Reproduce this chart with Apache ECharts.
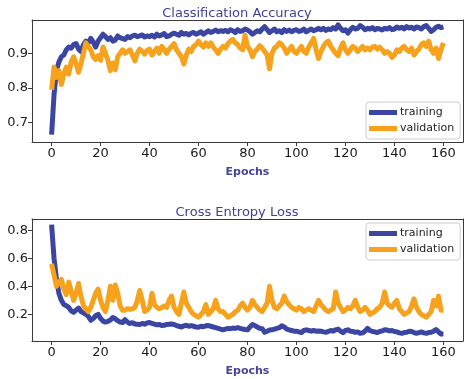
<!DOCTYPE html>
<html>
<head>
<meta charset="utf-8">
<script src="https://cdn.jsdelivr.net/npm/echarts@6/dist/echarts.min.js"></script>
<style>html,body{margin:0;padding:0;background:#fff}#c{width:474px;height:379px}</style>
</head>
<body>
<div id="c"></div>
<script>
const xTicks = [0, 20, 40, 60, 80, 100, 120, 140, 160];
const accTicks = [0.7, 0.8, 0.9];
const lossTicks = [0.2, 0.4, 0.6, 0.8];

const accTrain = [
0.665,0.78,0.85,0.875,0.89,0.895,0.91,0.918,0.915,0.925,
0.928,0.912,0.905,0.925,0.935,0.93,0.943,0.932,0.918,0.935,
0.945,0.955,0.948,0.94,0.945,0.935,0.938,0.95,0.945,0.942,
0.94,0.948,0.945,0.95,0.952,0.948,0.95,0.953,0.947,0.95,
0.948,0.952,0.947,0.955,0.95,0.953,0.957,0.948,0.95,0.955,
0.958,0.955,0.952,0.96,0.955,0.957,0.953,0.958,0.96,0.955,
0.958,0.962,0.955,0.96,0.965,0.96,0.963,0.967,0.962,0.965,
0.963,0.966,0.962,0.968,0.965,0.96,0.968,0.963,0.965,0.97,
0.967,0.962,0.955,0.96,0.965,0.962,0.97,0.977,0.968,0.96,
0.965,0.97,0.962,0.965,0.96,0.968,0.963,0.967,0.962,0.966,
0.968,0.963,0.965,0.97,0.962,0.966,0.97,0.965,0.968,0.972,
0.968,0.972,0.966,0.97,0.968,0.974,0.97,0.982,0.972,0.965,
0.968,0.958,0.968,0.975,0.97,0.972,0.98,0.975,0.968,0.972,
0.97,0.974,0.968,0.972,0.97,0.967,0.972,0.97,0.974,0.968,
0.97,0.976,0.972,0.975,0.97,0.977,0.973,0.975,0.97,0.976,
0.974,0.97,0.977,0.98,0.972,0.963,0.968,0.975,0.978,0.974,
0.976];
const accVal = [
0.795,0.86,0.83,0.85,0.81,0.84,0.86,0.84,0.875,0.89,
0.87,0.845,0.87,0.9,0.93,0.92,0.91,0.89,0.882,0.893,
0.88,0.918,0.9,0.88,0.85,0.872,0.852,0.89,0.9,0.91,
0.9,0.905,0.91,0.895,0.878,0.9,0.912,0.905,0.898,0.908,
0.912,0.895,0.905,0.915,0.9,0.92,0.91,0.9,0.912,0.92,
0.928,0.91,0.9,0.89,0.869,0.895,0.912,0.905,0.92,0.925,
0.935,0.925,0.918,0.93,0.92,0.93,0.918,0.91,0.9,0.912,
0.92,0.915,0.928,0.935,0.94,0.93,0.925,0.915,0.91,0.952,
0.92,0.91,0.89,0.905,0.912,0.922,0.915,0.905,0.895,0.855,
0.9,0.915,0.92,0.93,0.925,0.915,0.9,0.91,0.92,0.905,
0.9,0.91,0.92,0.905,0.9,0.918,0.93,0.943,0.91,0.885,
0.905,0.92,0.93,0.935,0.92,0.91,0.9,0.893,0.915,0.93,
0.91,0.9,0.91,0.92,0.915,0.905,0.912,0.92,0.91,0.915,
0.91,0.918,0.92,0.912,0.918,0.91,0.9,0.905,0.9,0.888,
0.895,0.91,0.905,0.915,0.92,0.91,0.905,0.915,0.895,0.905,
0.912,0.925,0.93,0.92,0.935,0.91,0.9,0.915,0.885,0.91,
0.93];
const lossTrain = [
0.84,0.6,0.45,0.35,0.3,0.27,0.262,0.25,0.225,0.215,
0.23,0.245,0.22,0.21,0.2,0.185,0.158,0.17,0.19,0.2,
0.17,0.152,0.145,0.15,0.16,0.177,0.168,0.155,0.145,0.142,
0.162,0.145,0.135,0.14,0.132,0.13,0.128,0.135,0.13,0.138,
0.142,0.135,0.13,0.125,0.128,0.12,0.122,0.128,0.13,0.132,
0.128,0.12,0.115,0.11,0.118,0.122,0.115,0.12,0.115,0.11,
0.108,0.115,0.112,0.118,0.12,0.115,0.11,0.105,0.1,0.095,
0.09,0.095,0.1,0.098,0.102,0.1,0.105,0.1,0.095,0.092,
0.09,0.11,0.128,0.12,0.11,0.1,0.098,0.072,0.08,0.088,
0.09,0.095,0.1,0.105,0.118,0.11,0.095,0.09,0.085,0.08,
0.08,0.075,0.07,0.085,0.09,0.085,0.08,0.085,0.08,0.082,
0.08,0.075,0.072,0.078,0.085,0.08,0.09,0.095,0.08,0.07,
0.085,0.09,0.08,0.078,0.072,0.075,0.065,0.068,0.08,0.1,
0.085,0.078,0.075,0.07,0.078,0.082,0.09,0.088,0.082,0.085,
0.078,0.075,0.068,0.065,0.07,0.072,0.08,0.078,0.07,0.065,
0.07,0.075,0.068,0.065,0.07,0.072,0.08,0.092,0.075,0.06,
0.06];
const lossVal = [
0.56,0.48,0.4,0.43,0.45,0.38,0.34,0.43,0.37,0.3,
0.35,0.42,0.33,0.26,0.24,0.22,0.25,0.3,0.35,0.38,
0.3,0.25,0.22,0.3,0.4,0.3,0.41,0.35,0.26,0.23,
0.23,0.24,0.235,0.24,0.25,0.3,0.37,0.3,0.22,0.23,
0.25,0.35,0.27,0.25,0.24,0.25,0.26,0.25,0.3,0.33,
0.25,0.22,0.2,0.28,0.36,0.28,0.25,0.22,0.2,0.19,
0.18,0.2,0.22,0.27,0.2,0.22,0.24,0.3,0.24,0.22,
0.22,0.2,0.18,0.19,0.2,0.22,0.23,0.26,0.28,0.25,
0.23,0.25,0.3,0.27,0.25,0.23,0.22,0.25,0.28,0.4,
0.3,0.25,0.24,0.26,0.28,0.33,0.29,0.27,0.25,0.24,
0.23,0.25,0.24,0.22,0.23,0.24,0.23,0.22,0.26,0.3,
0.27,0.25,0.23,0.22,0.23,0.24,0.36,0.28,0.25,0.22,
0.23,0.25,0.24,0.26,0.3,0.25,0.22,0.23,0.25,0.23,
0.2,0.21,0.22,0.24,0.25,0.28,0.36,0.28,0.26,0.25,
0.28,0.3,0.24,0.22,0.2,0.21,0.22,0.26,0.31,0.25,
0.22,0.2,0.19,0.18,0.2,0.22,0.3,0.26,0.33,0.23,
0.23];

const BLUE = '#3b46a3', ORANGE = '#f6a21c';
const FONT = 'DejaVu Sans';
const AX = '#3a3a3a';
const pairs = arr => arr.map((v, i) => [i, v]);

function xAxis(gridIndex) {
  return {
    type: 'value', gridIndex, min: -8, max: 168,
    name: 'Epochs', nameLocation: 'middle', nameGap: 25,
    nameTextStyle: { color: '#45459a', fontSize: 11, fontWeight: 'bold', fontFamily: FONT },
    axisLine: { show: true, onZero: false, lineStyle: { color: AX } },
    axisTick: { show: true, length: 4, customValues: xTicks, lineStyle: { color: AX } },
    axisLabel: { customValues: xTicks, color: '#1a1a1a', fontSize: 13, fontFamily: FONT, margin: 5 },
    splitLine: { show: false }
  };
}
function xTop(gridIndex) {
  return {
    type: 'value', gridIndex, min: -8, max: 168, position: 'top',
    axisLine: { show: true, onZero: false, lineStyle: { color: AX } },
    axisTick: { show: false }, axisLabel: { show: false }, splitLine: { show: false }
  };
}
function yAxis(gridIndex, min, max, ticks) {
  return {
    type: 'value', gridIndex, min, max,
    axisLine: { show: true, onZero: false, lineStyle: { color: AX } },
    axisTick: { show: true, length: 4, customValues: ticks, lineStyle: { color: AX } },
    axisLabel: { customValues: ticks, color: '#1a1a1a', fontSize: 13, fontFamily: FONT, margin: 4,
      formatter: v => v.toFixed(1) },
    splitLine: { show: false }
  };
}
function yRight(gridIndex, min, max) {
  return {
    type: 'value', gridIndex, min, max, position: 'right',
    axisLine: { show: true, onZero: false, lineStyle: { color: AX } },
    axisTick: { show: false }, axisLabel: { show: false }, splitLine: { show: false }
  };
}
function legend(top) {
  return {
    left: 366, top, orient: 'vertical', icon: 'rect',
    itemWidth: 28, itemHeight: 5, itemGap: 5,
    padding: [5, 6, 5, 3],
    borderColor: '#ccc', borderWidth: 1, borderRadius: 3, backgroundColor: '#fff',
    textStyle: { color: '#222', fontSize: 11, fontFamily: FONT, padding: [0, 0, 0, -2] },
    data: ['training', 'validation']
  };
}
function line(name, data, color, xi, yi) {
  return {
    type: 'line', name, data: pairs(data), xAxisIndex: xi, yAxisIndex: yi,
    showSymbol: false, symbol: 'none', animation: false,
    lineStyle: { color, width: 5, join: 'round' }, itemStyle: { color }
  };
}

const chart = echarts.init(document.getElementById('c'), null, { renderer: 'canvas' });
chart.setOption({
  animation: false,
  backgroundColor: '#fff',
  title: [
    { text: 'Classification Accuracy', left: 'center', top: 2,
      textStyle: { color: '#3f3f9c', fontSize: 13, fontWeight: 'normal', fontFamily: FONT } },
    { text: 'Cross Entropy Loss', left: 'center', top: 201,
      textStyle: { color: '#3f3f9c', fontSize: 13, fontWeight: 'normal', fontFamily: FONT } }
  ],
  grid: [
    { left: 32, top: 20, width: 431, height: 122 },
    { left: 32, top: 219, width: 431, height: 122 }
  ],
  legend: [legend(102), legend(223)],
  xAxis: [xAxis(0), xAxis(1), xTop(0), xTop(1)],
  yAxis: [yAxis(0, 0.644, 0.996, accTicks), yAxis(1, 0.01, 0.88, lossTicks), yRight(0, 0.644, 0.996), yRight(1, 0.01, 0.88)],
  series: [
    line('training', accTrain, BLUE, 0, 0),
    line('validation', accVal, ORANGE, 0, 0),
    line('training', lossTrain, BLUE, 1, 1),
    line('validation', lossVal, ORANGE, 1, 1)
  ]
});
</script>
</body>
</html>
